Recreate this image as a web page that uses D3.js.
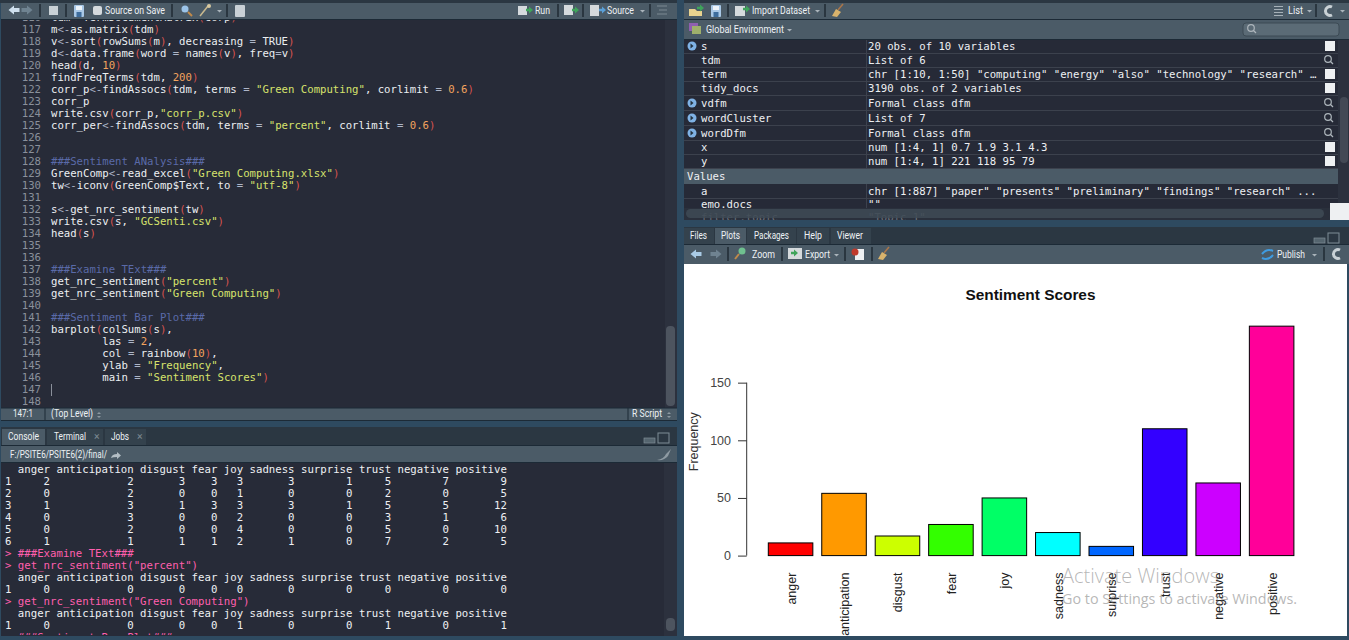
<!DOCTYPE html>
<html>
<head>
<meta charset="utf-8">
<script src="https://cdn.jsdelivr.net/npm/d3@7"></script>
<style>
  html, body { margin: 0; padding: 0; background: #2e4a60; overflow: hidden; }
  svg { display: block; }
  .mono { font-family: "DejaVu Sans Mono", monospace; font-size: 10.65px; white-space: pre; }
  .ui { font-family: Roboto, "Noto Sans", sans-serif; font-size: 10.5px; fill: #eef2f5; }
  .r { font-family: "Liberation Sans", Arial, sans-serif; }
</style>
</head>
<body>
<div id="screen"></div>
<script>
// ############ DATA ###############

const categories = ["anger", "anticipation", "disgust", "fear", "joy", "sadness", "surprise", "trust", "negative", "positive"];
const frequency = [11, 54, 17, 27, 50, 20, 8, 110, 63, 199];
const barColors = ["#FF0000", "#FF9900", "#CCFF00", "#33FF00", "#00FF66", "#00FFFF", "#0066FF", "#3300FF", "#CC00FF", "#FF0099"];
const yTicks = [0, 50, 100, 150];

const codeLines = [
  "m<-as.matrix(tdm)",
  "v<-sort(rowSums(m), decreasing = TRUE)",
  "d<-data.frame(word = names(v), freq=v)",
  "head(d, 10)",
  "findFreqTerms(tdm, 200)",
  "corr_p<-findAssocs(tdm, terms = \"Green Computing\", corlimit = 0.6)",
  "corr_p",
  "write.csv(corr_p,\"corr_p.csv\")",
  "corr_per<-findAssocs(tdm, terms = \"percent\", corlimit = 0.6)",
  "",
  "",
  "###Sentiment ANalysis###",
  "GreenComp<-read_excel(\"Green Computing.xlsx\")",
  "tw<-iconv(GreenComp$Text, to = \"utf-8\")",
  "",
  "s<-get_nrc_sentiment(tw)",
  "write.csv(s, \"GCSenti.csv\")",
  "head(s)",
  "",
  "",
  "###Examine TExt###",
  "get_nrc_sentiment(\"percent\")",
  "get_nrc_sentiment(\"Green Computing\")",
  "",
  "###Sentiment Bar Plot###",
  "barplot(colSums(s),",
  "        las = 2,",
  "        col = rainbow(10),",
  "        ylab = \"Frequency\",",
  "        main = \"Sentiment Scores\")",
  "",
  ""
];

const consoleHeader = "  anger anticipation disgust fear joy sadness surprise trust negative positive";
const consoleLines = [
  consoleHeader,
  "1     2            2       3    3   3       3        1     5        7        9",
  "2     0            2       0    0   1       0        0     2        0        5",
  "3     1            3       1    3   3       3        1     5        5       12",
  "4     0            3       0    0   2       0        0     3        1        6",
  "5     0            2       0    0   4       0        0     5        0       10",
  "6     1            1       1    1   2       1        0     7        2        5",
  "> ###Examine TExt###",
  "> get_nrc_sentiment(\"percent\")",
  consoleHeader,
  "1     0            0       0    0   0       0        0     0        0        0",
  "> get_nrc_sentiment(\"Green Computing\")",
  consoleHeader,
  "1     0            0       0    0   1       0        0     1        0        1",
  "> ###Sentiment Bar Plot###"
];

const envNames = ["s", "tdm", "term", "tidy_docs", "vdfm", "wordCluster", "wordDfm", "x", "y"];
const envValues = [
  "20 obs. of 10 variables",
  "List of 6",
  "chr [1:10, 1:50] \"computing\" \"energy\" \"also\" \"technology\" \"research\" …",
  "3190 obs. of 2 variables",
  "Formal class dfm",
  "List of 7",
  "Formal class dfm",
  "num [1:4, 1] 0.7 1.9 3.1 4.3",
  "num [1:4, 1] 221 118 95 79"
];
const envRowY = [46, 60, 74, 88, 103, 118, 133, 147, 161];
const envExpand = ["s", "vdfm", "wordCluster", "wordDfm"];
const envLens = ["tdm", "vdfm", "wordCluster", "wordDfm"];
const envGrid = ["s", "term", "tidy_docs", "x", "y"];

// ############ SETUP ###############

const w = 1349, h = 640;
const outer = "#2e4a60", bar = "#4b5b67", dark = "#272b38", strip = "#2b3742", line = "#1c2a36", track = "#2c313e";

const svg = d3.select("#screen").append("svg").attr("width", w).attr("height", h);

function box(g, x, y, width, height, fill, extra) {
  const r = g.append("rect").attr("x", x).attr("y", y).attr("width", width).attr("height", height).attr("fill", fill);
  if (extra) Object.keys(extra).forEach(k => r.attr(k, extra[k]));
  return r;
}

// the UI font of the original is narrow, so squeeze to the measured width
function label(g, x, y, txt, width) {
  const t = g.append("text").attr("class", "ui").attr("x", x).attr("y", y).text(txt);
  if (width) t.attr("textLength", width).attr("lengthAdjust", "spacingAndGlyphs");
  return t;
}

function sep(g, x, y1, y2) {
  g.append("line").attr("x1", x).attr("x2", x).attr("y1", y1).attr("y2", y2).attr("stroke", "#2a3640").attr("stroke-width", 2);
}

function caret(g, x, y) {
  g.append("path").attr("d", `M${x},${y} h5 l-2.5,2.5 z`).attr("fill", "#aab4bb");
}

function updown(g, x, y) {
  g.append("path").attr("d", `M${x},${y} l2,-2 l2,2 z M${x},${y + 2} l2,2 l2,-2 z`).attr("fill", "#8d99a1");
}

function arrow(g, x, y, color, dir) {
  g.append("path").attr("fill", color).attr("transform", `translate(${x},${y}) scale(${dir},1)`)
    .attr("d", "M-5.5,0 L0,-4.5 L0,-2 L5.5,-2 L5.5,2 L0,2 L0,4.5 Z");
}

function smallArrow(g, x, y, color) {
  g.append("path").attr("fill", color).attr("transform", `translate(${x},${y})`)
    .attr("d", "M-3,-1.2 L0,-1.2 L0,-3.5 L4,0 L0,3.5 L0,1.2 L-3,1.2 Z");
}

function floppy(g, x, y) {
  box(g, x, y, 10, 12, "#a9c8e6", {rx: 1});
  box(g, x + 2, y + 1, 6, 4, "#eef4fa");
  box(g, x + 2.5, y + 7, 5, 5, "#3d6c9c");
}

function broom(g, x, y) {
  g.append("path").attr("d", `M${x},${y + 12} l4,-7 l5,3 l-4,5 z`).attr("fill", "#d9b36c");
  g.append("line").attr("x1", x + 6).attr("y1", y + 6).attr("x2", x + 11).attr("y2", y)
    .attr("stroke", "#a9754a").attr("stroke-width", 1.6);
}

function refresh(g, x, y) {
  g.append("path").attr("d", `M${x + 9},${y + 2} A4.5,4.5 0 1 0 ${x + 9},${y + 10}`)
    .attr("fill", "none").attr("stroke", "#c9d1d6").attr("stroke-width", 3);
}

function lens(g, cx, cy) {
  g.append("circle").attr("cx", cx).attr("cy", cy).attr("r", 3.3).attr("fill", "none").attr("stroke", "#aeb6bc").attr("stroke-width", 1.2);
  g.append("line").attr("x1", cx + 2.5).attr("y1", cy + 2.5).attr("x2", cx + 5).attr("y2", cy + 5).attr("stroke", "#aeb6bc").attr("stroke-width", 1.2);
}

function paneButtons(g, x, y) {
  box(g, x, y, 11, 5, "#55656f", {stroke: "#7f8d96", "stroke-width": 0.7});
  box(g, x + 14, y - 5, 11, 10, "none", {stroke: "#7f8d96", "stroke-width": 1});
}

function tab(g, x, width, y, height, txt, tx, tw, active, closable) {
  box(g, x, y, width, height, active ? bar : "#34424d");
  label(g, tx, y + 11, txt, tw);
  if (closable) g.append("text").attr("class", "ui").attr("x", x + width - 9).attr("y", y + 11)
    .style("fill", "#7c8a93").text("×");
}

// ############ SYNTAX COLOURS ###############

const tokenRe = /("[^"]*")|(#.*$)|(\bTRUE\b)|(\b\d+\.?\d*\b)|([()])|(<-|=)|([^"#()\d<=]+|.)/g;
const tokenColor = ["#d7e36c", "#5a6aa8", "#a88bf0", "#f2a35e", "#d9534f", "#aeb6c8", "#eceff2"];

function addCode(g, x, y, txt) {
  const t = g.append("text").attr("class", "mono").attr("x", x).attr("y", y);
  let m;
  tokenRe.lastIndex = 0;
  while ((m = tokenRe.exec(txt)) !== null) {
    if (m[0] === "") break;
    const idx = [1, 2, 3, 4, 5, 6, 7].find(i => m[i] !== undefined) - 1;
    t.append("tspan").attr("fill", tokenColor[idx]).text(m[0]);
  }
}

// ############ SOURCE PANE ###############

const src = svg.append("g");
box(src, 1, 19, 676, 389, dark);
box(src, 665, 19, 12, 389, track);
box(src, 666, 326, 9, 80, "#4d545f", {rx: 4});

// line 116 is cut off under the toolbar
src.append("text").attr("class", "mono").attr("x", 41).attr("y", 21).attr("text-anchor", "end").attr("fill", "#8a909b").text("116");
addCode(src, 51, 21, "tdm<-TermDocumentMatrix(corp)");

codeLines.forEach((c, i) => {
  const y = 33 + 12 * i;
  src.append("text").attr("class", "mono").attr("x", 41).attr("y", y).attr("text-anchor", "end")
    .attr("fill", "#8a909b").text(117 + i);
  addCode(src, 51, y, c);
});
box(src, 51, 384, 1, 12, "#8a909b");

// toolbar on top of the first line
box(src, 0, 0, 677, 3, strip);
box(src, 1, 3, 676, 16, bar);
box(src, 1, 19, 676, 1, line);
arrow(src, 14, 10, "#cfe0ee", 1);
arrow(src, 27, 10, "#6f8391", -1);
sep(src, 40, 4, 17);
box(src, 49, 6, 9, 9, "#c9d1d6");
sep(src, 66, 4, 17);
floppy(src, 74, 5);
box(src, 93, 6, 9, 9, "#d5dadd", {rx: 2});
label(src, 105, 14, "Source on Save", 60);
sep(src, 172, 4, 17);
src.append("circle").attr("cx", 185).attr("cy", 9).attr("r", 3.5).attr("fill", "#9cc4e8");
src.append("line").attr("x1", 188).attr("y1", 12).attr("x2", 192).attr("y2", 16).attr("stroke", "#c08a4a").attr("stroke-width", 2);
src.append("line").attr("x1", 200).attr("y1", 16).attr("x2", 208).attr("y2", 6).attr("stroke", "#c9b98f").attr("stroke-width", 1.5);
src.append("circle").attr("cx", 209).attr("cy", 6).attr("r", 2).attr("fill", "#d9c9a0");
caret(src, 217, 10);
sep(src, 227, 4, 17);
box(src, 235, 5, 10, 12, "#c9d1d6", {rx: 1});
box(src, 518, 6, 9, 9, "#d5dadd");
smallArrow(src, 529, 10, "#3fa45b");
label(src, 535, 14, "Run", 15);
sep(src, 558, 4, 17);
box(src, 564, 5, 9, 10, "#d5dadd");
smallArrow(src, 575, 10, "#3fa45b");
sep(src, 583, 4, 17);
box(src, 590, 5, 9, 11, "#d5dadd");
smallArrow(src, 602, 10, "#5aa0d8");
label(src, 607, 14, "Source", 27);
caret(src, 640, 10);
sep(src, 650, 4, 17);
src.append("path").attr("d", "M657,6 h10 M659,10 h8 M657,14 h10").attr("stroke", "#7d8a93").attr("fill", "none");

// status bar
box(src, 1, 408, 676, 12, bar);
box(src, 1, 407.5, 676, 1, line);
box(src, 1, 420, 676, 1, line);
src.append("line").attr("x1", 45).attr("x2", 45).attr("y1", 408).attr("y2", 420).attr("stroke", line);
src.append("line").attr("x1", 628).attr("x2", 628).attr("y1", 408).attr("y2", 420).attr("stroke", line);
label(src, 13, 417, "147:1", 20);
label(src, 51, 417, "(Top Level)", 42);
label(src, 632, 417, "R Script", 30);
updown(src, 97, 414);
updown(src, 667, 414);

// ############ CONSOLE PANE ###############

const con = svg.append("g");
box(con, 1, 427, 676, 18, strip);
tab(con, 2, 43, 429, 16, "Console", 8, 31, true);
tab(con, 47, 56, 429, 16, "Terminal", 54, 32, false, true);
tab(con, 105, 41, 429, 16, "Jobs", 111, 18, false, true);
paneButtons(con, 644, 438);
box(con, 1, 445, 676, 18, bar);
box(con, 1, 445, 676, 1, line);
label(con, 10, 458, "F:/PSITE6/PSITE6(2)/final/", 97);
con.append("path").attr("d", "M111,458 q1,-4 6,-4 v-2 l4,3.5 l-4,3.5 v-2 q-4,0 -6,1 z").attr("fill", "#b3bdc4");
con.append("path").attr("d", "M657,460 q7,-1 9,-6 l5,-5 l-3,7 q-4,5 -11,4 z").attr("fill", "#8e9aa2");
box(con, 1, 462, 676, 174, dark);
box(con, 1, 462, 676, 1, line);
box(con, 664, 463, 13, 173, track);
box(con, 666, 618, 9, 13, "#4d545f", {rx: 4});

const conClip = svg.append("clipPath").attr("id", "conClip");
box(conClip, 1, 463, 662, 172, "#000");
const conText = con.append("g").attr("clip-path", "url(#conClip)");
consoleLines.forEach((c, i) => {
  conText.append("text").attr("class", "mono").attr("x", 5).attr("y", 473 + 12 * i)
    .style("font-size", "10.7px")
    .attr("fill", c[0] === ">" ? "#ff5fae" : "#eef0f3").text(c);
});

// ############ ENVIRONMENT PANE ###############

const env = svg.append("g");
box(env, 684, 0, 665, 3, strip);
box(env, 684, 3, 665, 16, bar);
env.append("path").attr("d", "M689,9 h6 l2,2 h5 v5 h-13 z").attr("fill", "#e9d28f");
smallArrow(env, 700, 8, "#3fa45b");
floppy(env, 711, 5);
sep(env, 728, 4, 17);
box(env, 735, 6, 10, 10, "#d5dadd");
smallArrow(env, 746, 9, "#3fa45b");
label(env, 752, 14, "Import Dataset", 58);
caret(env, 815, 10);
sep(env, 825, 4, 17);
broom(env, 832, 4);
env.append("path").attr("d", "M1274,6.5 h9 M1274,9.5 h9 M1274,12.5 h9 M1274,15.5 h9").attr("stroke", "#a6b1b8").attr("fill", "none");
label(env, 1288, 14, "List", 15);
caret(env, 1307, 10);
sep(env, 1316, 4, 17);
refresh(env, 1323, 5);
caret(env, 1340, 10);

box(env, 684, 19, 665, 20, bar);
box(env, 684, 19, 665, 1, line);
box(env, 689, 23, 9, 8, "#8f5fb0");
box(env, 692, 26, 9, 8, "#9fb06c");
label(env, 706, 33, "Global Environment", 78);
caret(env, 787, 29);
box(env, 1243, 23, 96, 13, "#5b6b76", {rx: 3, stroke: "#3c4a54"});
lens(env, 1251, 28);

box(env, 684, 39, 665, 182, "#262a37");
box(env, 684, 39, 665, 1, line);
box(env, 1338, 40, 11, 165, track);
box(env, 1340, 97, 8, 66, "#4d545f", {rx: 4, opacity: 0.7});

function envRow(name, value, y, bottom, fill) {
  env.append("text").attr("class", "mono").attr("x", 701).attr("y", y + 4).attr("fill", fill || "#eef0f3").text(name);
  env.append("text").attr("class", "mono").attr("x", 868).attr("y", y + 4).attr("fill", fill || "#eef0f3").text(value);
  if (bottom) box(env, 684, bottom, 654, 1, "#3c414d");
}

envNames.forEach((n, i) => {
  const y = envRowY[i];
  envRow(n, envValues[i], y, y + 7);
  if (envExpand.includes(n)) {
    env.append("circle").attr("cx", 692).attr("cy", y).attr("r", 4.5).attr("fill", "#7fb2e5");
    env.append("path").attr("d", `M690.5,${y - 2.5} l3,2.5 l-3,2.5 z`).attr("fill", "#24323f");
  }
  if (envLens.includes(n)) lens(env, 1328, y - 1);
  if (envGrid.includes(n)) box(env, 1325, y - 5, 10, 10, "#eef0f2");
});
box(env, 866, 40, 1, 129, "#3c414d");

box(env, 684, 169, 654, 15, bar);
env.append("text").attr("class", "mono").attr("x", 687).attr("y", 180).attr("fill", "#eef0f3").text("Values");
envRow("a", "chr [1:887] \"paper\" \"presents\" \"preliminary\" \"findings\" \"research\" ...", 191, 198);
envRow("emo.docs", "\"\"", 204);
box(env, 866, 184, 1, 37, "#3c414d");
// horizontal scroll bar sits over the last row
box(env, 684, 208, 665, 13, "#2a303c");
envRow("filter.topic", "\"Topic 1\"", 217, null, "#6d727c");
box(env, 686, 209, 638, 9, "#3e4a55", {rx: 4.5, opacity: 0.85});
box(env, 1330, 203, 19, 17, "#eef0f2");
box(env, 684, 220, 665, 7, outer);

// ############ PLOTS PANE ###############

const pl = svg.append("g");
box(pl, 684, 227, 665, 17, strip);
tab(pl, 684, 30, 228, 16, "Files", 690, 17);
tab(pl, 715, 31, 228, 16, "Plots", 721, 19, true);
tab(pl, 747, 49, 228, 16, "Packages", 754, 35);
tab(pl, 797, 32, 228, 16, "Help", 804, 18);
tab(pl, 831, 40, 228, 16, "Viewer", 837, 26);
paneButtons(pl, 1314, 238);
box(pl, 684, 244, 665, 20, bar);
box(pl, 684, 244, 665, 1, line);
arrow(pl, 696, 254, "#a9cbe6", 1);
arrow(pl, 716, 254, "#6f8391", -1);
sep(pl, 728, 247, 261);
pl.append("circle").attr("cx", 742).attr("cy", 251).attr("r", 3.5).attr("fill", "#6fc08f");
pl.append("line").attr("x1", 739).attr("y1", 254).attr("x2", 735).attr("y2", 259).attr("stroke", "#c08a4a").attr("stroke-width", 2);
label(pl, 752, 258, "Zoom", 23);
sep(pl, 782, 247, 261);
box(pl, 788, 248, 14, 11, "#d5dadd");
smallArrow(pl, 794, 253, "#3fa45b");
label(pl, 805, 258, "Export", 25);
caret(pl, 834, 254);
sep(pl, 845, 247, 261);
box(pl, 855, 249, 9, 11, "#eef0f2");
pl.append("circle").attr("cx", 855).attr("cy", 252).attr("r", 3.5).attr("fill", "#c0392b");
sep(pl, 872, 247, 261);
broom(pl, 878, 247);
pl.append("path").attr("d", "M1262,254 q5,-6 11,-3 M1273,255 q-5,6 -11,3").attr("fill", "none").attr("stroke", "#3f9be0").attr("stroke-width", 2);
label(pl, 1277, 258, "Publish", 28);
caret(pl, 1312, 254);
sep(pl, 1324, 247, 261);
refresh(pl, 1331, 248);

// ############ PLOT ###############

const plotClip = svg.append("clipPath").attr("id", "plotClip");
box(plotClip, 684, 264, 663, 372, "#000");

const plot = svg.append("g").attr("clip-path", "url(#plotClip)");
box(plot, 684, 264, 663, 372, "#fff");

const xScale = d3.scaleBand()
  .domain(categories)
  .range([768.3, 1293.9])
  .paddingInner(1 / 6)
  .paddingOuter(0);

const colorScale = d3.scaleOrdinal().domain(categories).range(barColors);

const yScale = d3.scaleLinear()
  .domain([0, 200])
  .range([555.6, 325]);

plot.append("g")
  .selectAll("rect")
  .data(categories)
  .enter()
  .append("rect")
    .attr("x", d => xScale(d))
    .attr("y", (d, i) => yScale(frequency[i]))
    .attr("width", xScale.bandwidth())
    .attr("height", (d, i) => yScale(0) - yScale(frequency[i]))
    .attr("fill", d => colorScale(d))
    .attr("stroke", "#000")
    .attr("stroke-width", 1);

// y-axis, R only draws the line up to the last tick
const yAxis = d3.axisLeft(yScale).tickValues(yTicks).tickSize(8.7).tickPadding(7);
const yg = plot.append("g").attr("class", "r").attr("transform", "translate(746.7, 0)").call(yAxis);
yg.select(".domain").remove();
yg.append("line")
  .attr("y1", yScale(yTicks[0]))
  .attr("y2", yScale(yTicks[yTicks.length - 1]))
  .attr("stroke", "#333");
yg.selectAll(".tick line").attr("stroke", "#333");
yg.selectAll(".tick text").attr("fill", "#444").style("font-family", "'Liberation Sans', Arial, sans-serif").style("font-size", "12.5px");

// x-axis labels only, rotated like las = 2
const xAxis = d3.axisBottom(xScale).tickSize(0);
const xg = plot.append("g").attr("transform", `translate(0, ${yScale(0)})`).call(xAxis);
xg.select(".domain").remove();
xg.selectAll(".tick text")
  .attr("transform", "rotate(-90)")
  .attr("x", -17)
  .attr("y", 5)
  .attr("dy", 0)
  .attr("text-anchor", "end")
  .attr("fill", "#222")
  .style("font-family", "'Liberation Sans', Arial, sans-serif")
  .style("font-size", "12.5px");

plot.append("text")
  .attr("class", "r")
  .attr("x", 1030.5)
  .attr("y", 300)
  .attr("text-anchor", "middle")
  .attr("font-weight", "bold")
  .attr("font-size", 15.4)
  .attr("fill", "#111")
  .text("Sentiment Scores");

plot.append("text")
  .attr("class", "r")
  .attr("transform", "translate(698, 441.7) rotate(-90)")
  .attr("text-anchor", "middle")
  .attr("font-size", 12.5)
  .attr("fill", "#333")
  .text("Frequency");

// windows watermark over the plot
plot.append("text")
  .attr("x", 1062).attr("y", 583)
  .attr("font-family", "'Open Sans', sans-serif").attr("font-size", 20).attr("font-weight", 300)
  .attr("textLength", 157).attr("lengthAdjust", "spacingAndGlyphs")
  .attr("fill", "rgba(110,110,110,0.5)")
  .text("Activate Windows");
plot.append("text")
  .attr("x", 1062).attr("y", 604)
  .attr("font-family", "'Open Sans', sans-serif").attr("font-size", 14.5)
  .attr("textLength", 235).attr("lengthAdjust", "spacingAndGlyphs")
  .attr("fill", "rgba(110,110,110,0.5)")
  .text("Go to Settings to activate Windows.");
</script>
</body>
</html>
